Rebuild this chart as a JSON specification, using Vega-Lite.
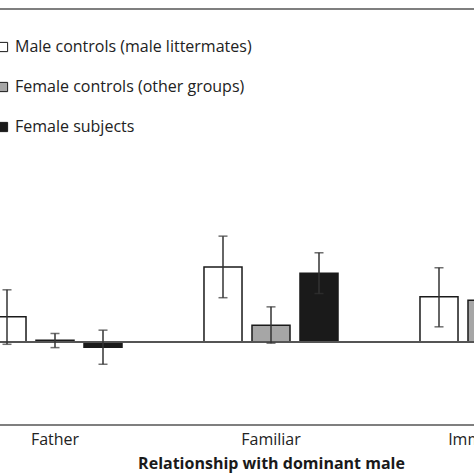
{
  "$schema": "https://vega.github.io/schema/vega-lite/v6.json",
  "autosize": {"type": "none"},
  "padding": {"left": -53, "top": 9, "right": -121, "bottom": 49},
  "width": 648,
  "height": 416,
  "background": "white",
  "config": {
    "font": "Open Sans",
    "view": {"stroke": "#555555", "strokeWidth": 1.5}
  },
  "data": {
    "values": [
      {"group": "Father", "series": "Male controls (male littermates)", "value": 0.30, "lo": -0.03, "hi": 0.625},
      {"group": "Father", "series": "Female controls (other groups)", "value": 0.02, "lo": -0.07, "hi": 0.10},
      {"group": "Father", "series": "Female subjects", "value": -0.065, "lo": -0.27, "hi": 0.14},
      {"group": "Familiar", "series": "Male controls (male littermates)", "value": 0.90, "lo": 0.53, "hi": 1.27},
      {"group": "Familiar", "series": "Female controls (other groups)", "value": 0.20, "lo": -0.016, "hi": 0.42},
      {"group": "Familiar", "series": "Female subjects", "value": 0.825, "lo": 0.58, "hi": 1.07},
      {"group": "Immigrant", "series": "Male controls (male littermates)", "value": 0.54, "lo": 0.18, "hi": 0.89},
      {"group": "Immigrant", "series": "Female controls (other groups)", "value": 0.50, "lo": 0.25, "hi": 0.75},
      {"group": "Immigrant", "series": "Female subjects", "value": 0.60, "lo": 0.35, "hi": 0.85}
    ]
  },
  "encoding": {
    "x": {
      "field": "group", "type": "nominal", "sort": ["Father", "Familiar", "Immigrant"],
      "scale": {"paddingInner": 0, "paddingOuter": 0},
      "axis": {
        "title": "Relationship with dominant male",
        "titleFont": "Open Sans", "titleFontSize": 16, "titleFontWeight": "bold", "titleColor": "#1a1a1a",
        "titlePadding": 8,
        "labelAngle": 0, "labelFontSize": 16, "labelColor": "#222222", "labelPadding": 6,
        "domain": false, "ticks": false
      }
    },
    "xOffset": {
      "field": "series", "type": "nominal",
      "sort": ["Male controls (male littermates)", "Female controls (other groups)", "Female subjects"],
      "scale": {"paddingInner": 0.208, "paddingOuter": 0.854}
    }
  },
  "layer": [
    {
      "mark": {"type": "bar", "stroke": "#1a1a1a", "strokeWidth": 1.5},
      "encoding": {
        "y": {"field": "value", "type": "quantitative", "scale": {"domain": [-1, 4], "nice": false}, "axis": null},
        "fill": {
          "field": "series", "type": "nominal",
          "sort": ["Male controls (male littermates)", "Female controls (other groups)", "Female subjects"],
          "scale": {"domain": ["Male controls (male littermates)", "Female controls (other groups)", "Female subjects"], "range": ["#ffffff", "#a6a6a6", "#1a1a1a"]},
          "legend": {
            "title": null, "orient": "none", "legendX": 48, "legendY": 30,
            "symbolType": "square", "symbolSize": 85, "symbolStrokeColor": "#1a1a1a", "symbolStrokeWidth": 1,
            "labelFontSize": 16, "labelColor": "#222222", "labelOffset": 4, "rowPadding": 24, "labelLimit": 400
          }
        }
      }
    },
    {
      "mark": {"type": "rule", "color": "#555555", "strokeWidth": 1.5},
      "encoding": {"y": {"datum": 0}, "x": null, "xOffset": null}
    },
    {
      "mark": {"type": "rule", "color": "#333333", "strokeWidth": 1.5},
      "encoding": {
        "y": {"field": "lo", "type": "quantitative"},
        "y2": {"field": "hi"}
      }
    },
    {
      "mark": {"type": "tick", "color": "#333333", "thickness": 1.5, "size": 9, "orient": "horizontal"},
      "encoding": {"y": {"field": "lo", "type": "quantitative"}}
    },
    {
      "mark": {"type": "tick", "color": "#333333", "thickness": 1.5, "size": 9, "orient": "horizontal"},
      "encoding": {"y": {"field": "hi", "type": "quantitative"}}
    }
  ]
}
